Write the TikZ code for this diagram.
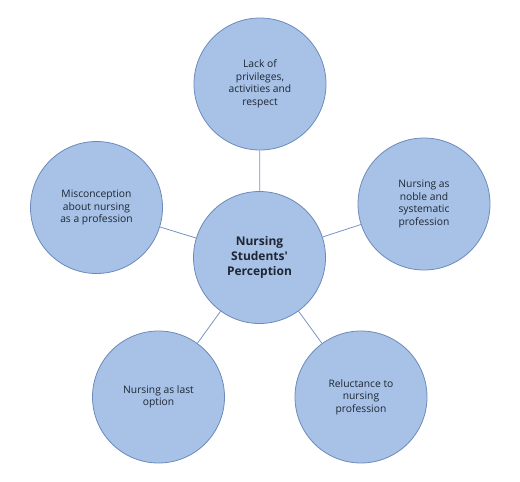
\documentclass[tikz,border=0pt]{standalone}
\usepackage{fontspec}
\setmainfont{Open Sans}
\usepackage{tikz}
\usetikzlibrary{positioning}

\definecolor{bubblefill}{RGB}{167,194,230}
\definecolor{bubbleline}{RGB}{108,138,186}
\definecolor{linkline}{RGB}{120,148,194}
\definecolor{bubbletext}{RGB}{30,38,52}

\begin{document}
\begin{tikzpicture}[x=1pt,y=1pt,
    bubble/.style={circle,draw=bubbleline,fill=bubblefill,line width=0.8pt,
      minimum size=132pt,inner sep=0pt,align=center,text=bubbletext,
      font=\fontsize{10.3}{12.5}\selectfont},
    hub/.style={bubble,font=\fontsize{12}{14.7}\selectfont\bfseries},
    link/.style={draw=linkline,line width=0.8pt}]

  \useasboundingbox (0,0) rectangle (520,-482);

  \node[hub]    (P) at (259.5,-257.5) {Nursing\\Students\textquotesingle\\Perception};
  \node[bubble] (L) at (260,-84)      {Lack of\\privileges,\\activities and\\respect};
  \node[bubble] (N) at (424,-204)     {Nursing as\\noble and\\systematic\\profession};
  \node[bubble] (R) at (361,-397)     {Reluctance to\\nursing\\profession};
  \node[bubble] (O) at (158.5,-397)   {Nursing as last\\option};
  \node[bubble] (M) at (96.5,-207.5)  {Misconception\\about nursing\\as a profession};

  \path [link]
        (P) edge (L)
            edge (N)
            edge (R)
            edge (O)
            edge (M);
\end{tikzpicture}
\end{document}
